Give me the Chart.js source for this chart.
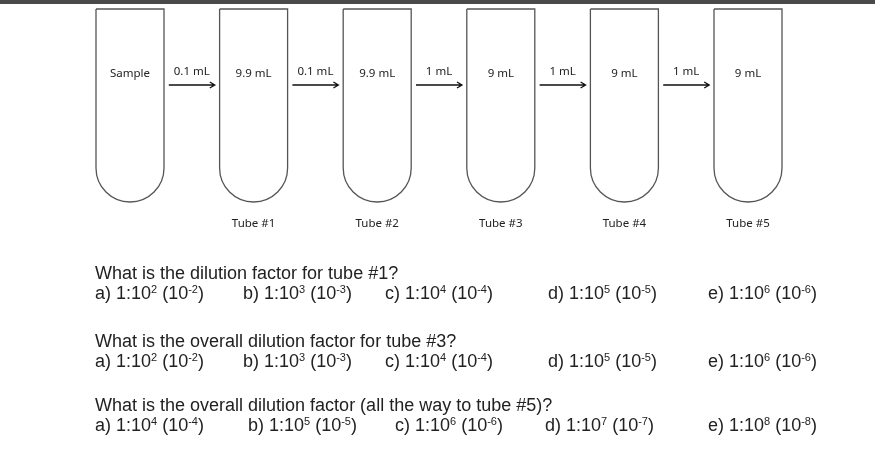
<!DOCTYPE html>
<html>
<head>
<meta charset="UTF-8" />
<style>
  body { margin: 0; background: #fff; }
  .topbar { position: absolute; left: 0; top: 0; width: 875px; height: 4px; background: #4a4a4a; }
  .wrap { position: absolute; left: 0; top: 0; width: 875px; height: 470px; }
</style>
</head>
<body>
<div class="wrap"><canvas id="c"></canvas></div>
<div class="topbar"></div>
<script src="https://cdn.jsdelivr.net/npm/chart.js"></script>
<script>
const tubeNames = ["", "Tube #1", "Tube #2", "Tube #3", "Tube #4", "Tube #5"]
const tubeContents = ["Sample", "9.9 mL", "9.9 mL", "9 mL", "9 mL", "9 mL"]
const transfers = ["0.1 mL", "0.1 mL", "1 mL", "1 mL", "1 mL"]
const questions = [
  "What is the dilution factor for tube #1?",
  "What is the overall dilution factor for tube #3?",
  "What is the overall dilution factor (all the way to tube #5)?"
]
const optionLetters = ["a", "b", "c", "d", "e"]
const optionExponents = [
  [2, 3, 4, 5, 6],
  [2, 3, 4, 5, 6],
  [4, 5, 6, 7, 8]
]

// layout (pixels)
const optionX = [[95, 243, 385, 548, 708], [95, 243, 385, 548, 708], [95, 248, 395, 545, 708]]
const questionY = [279, 347, 411]

const diagram = {
  id: "diagram",
  afterDraw(chart) {
    const ctx = chart.ctx
    const xs = chart.scales.x, ys = chart.scales.y
    const halfW = 34, top = ys.getPixelForValue(9), straightEnd = ys.getPixelForValue(168)
    ctx.save()
    ctx.strokeStyle = "#555"
    ctx.lineWidth = 1.3
    ctx.fillStyle = "#222"
    ctx.textAlign = "center"
    ctx.textBaseline = "middle"
    tubeContents.forEach((t, i) => {
      const cx = xs.getPixelForValue(i)
      ctx.beginPath()
      ctx.moveTo(cx - halfW, top)
      ctx.lineTo(cx - halfW, straightEnd)
      ctx.arc(cx, straightEnd, halfW, Math.PI, 0, true)
      ctx.lineTo(cx + halfW, top)
      ctx.lineTo(cx - halfW, top)
      ctx.stroke()
      ctx.font = "11.5px 'Noto Sans'"
      ctx.fillText(t, cx, ys.getPixelForValue(74))
      if (tubeNames[i]) ctx.fillText(tubeNames[i], cx, ys.getPixelForValue(224))
    })
    transfers.forEach((t, i) => {
      const mid = xs.getPixelForValue(i + 0.5)
      ctx.font = "11.5px 'Noto Sans'"
      ctx.fillText(t, mid, ys.getPixelForValue(72))
      const y = ys.getPixelForValue(85)
      ctx.strokeStyle = "#111"
      ctx.beginPath()
      ctx.moveTo(mid - 23, y); ctx.lineTo(mid + 23, y)
      ctx.moveTo(mid + 18, y - 3); ctx.lineTo(mid + 23, y); ctx.lineTo(mid + 18, y + 3)
      ctx.stroke()
      ctx.strokeStyle = "#555"
    })
    // questions
    ctx.textAlign = "left"
    ctx.textBaseline = "alphabetic"
    const big = "18px 'Liberation Sans', Arial", small = "11px 'Liberation Sans', Arial"
    questions.forEach((q, qi) => {
      const y0 = questionY[qi]
      ctx.font = big
      ctx.fillText(q, 95, y0)
      const y1 = y0 + 20
      optionExponents[qi].forEach((e, oi) => {
        let x = optionX[qi][oi]
        const parts = [[optionLetters[oi] + ") 1:10", 0], [String(e), 1], [" (10", 0], ["-" + e, 1], [")", 0]]
        parts.forEach(([s, sup]) => {
          ctx.font = sup ? small : big
          ctx.fillText(s, x, sup ? y1 - 6 : y1)
          x += ctx.measureText(s).width
        })
      })
    })
    ctx.restore()
  }
}

new Chart(document.getElementById("c"), {
  type: "scatter",
  data: { datasets: [{ data: tubeContents.map((_, i) => ({ x: i, y: 9 })), pointRadius: 0 }] },
  options: {
    responsive: true,
    maintainAspectRatio: false,
    animation: false,
    layout: { padding: 0 },
    plugins: { legend: { display: false }, tooltip: { enabled: false } },
    scales: {
      x: { type: "linear", display: false, min: -130 / 123.6, max: (875 - 130) / 123.6 },
      y: { type: "linear", display: false, min: 0, max: 470, reverse: true }
    }
  },
  plugins: [diagram]
})
</script>
</body>
</html>
